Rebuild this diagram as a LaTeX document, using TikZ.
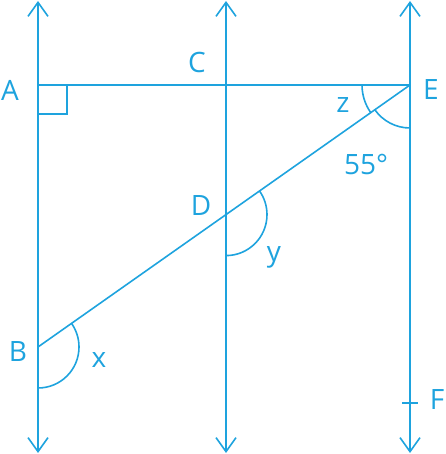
\documentclass[tikz,border=0pt]{standalone}
\usepackage{fontspec}
\setmainfont{Open Sans}
\usetikzlibrary{arrows.meta,calc}
\definecolor{geo}{RGB}{30,163,222}
\begin{document}
\begin{tikzpicture}[x=1pt,y=1pt,
  geoline/.style={draw=geo,line width=1.6pt},
  twoway/.style={geoline,{Straight Barb[length=14pt,width=20pt,line width=1.6pt]}-{Straight Barb[length=14pt,width=20pt,line width=1.6pt]}},
  lbl/.style={text=geo,font=\fontsize{28}{28}\selectfont,inner sep=0pt,anchor=center}]
\useasboundingbox (0,0) rectangle (445,454);
% line end points
\coordinate (Ltop) at (38,453);  \coordinate (Lbot) at (38,1);
\coordinate (Mtop) at (226,453); \coordinate (Mbot) at (226,1);
\coordinate (Rtop) at (410,453); \coordinate (Rbot) at (410,1);
% points
\coordinate (A) at (38,369);
\coordinate (C) at (226,369);
\coordinate (E) at (410,369);
\coordinate (B) at (38,107);
\coordinate (D) at ($(B)!{188/372}!(E)$);
\coordinate (F) at (410,51);
\coordinate (Fl) at (402,51); \coordinate (Fr) at (418,51);
% parallel lines
\draw[twoway] (Lbot) -- (Ltop);
\draw[twoway] (Mbot) -- (Mtop);
\draw[twoway] (Rbot) -- (Rtop);
% horizontal and transversal
\draw[geoline] (A) -- (E);
\draw[geoline] (B) -- (E);
% right angle
\draw[geoline] (A) rectangle ++(29,-29);
% F tick
\draw[geoline] (Fl) -- (Fr);
% angle arcs
\draw[geoline] ([shift={(-90:41)}]B) arc[start angle=-90,end angle=35.16,radius=41];
\draw[geoline] ([shift={(-90:41)}]D) arc[start angle=-90,end angle=35.16,radius=41];
\draw[geoline] ([shift={(180:48)}]E) arc[start angle=180,end angle=215.16,radius=48];
\draw[geoline] ([shift={(215.16:43)}]E) arc[start angle=215.16,end angle=270,radius=43];
% labels
\node[lbl] (lA) at (10,364) {A};
\node[lbl] (lC) at (197,391) {C};
\node[lbl] (lE) at (431,364) {E};
\node[lbl] (lz) at (343,349) {z};
\node[lbl] (l55) at (366,289) {55°};
\node[lbl] (lD) at (201,248) {D};
\node[lbl] (ly) at (274,197) {y};
\node[lbl] (lB) at (18,102) {B};
\node[lbl] (lx) at (99,94) {x};
\node[lbl] (lF) at (437,54) {F};
\end{tikzpicture}
\end{document}
